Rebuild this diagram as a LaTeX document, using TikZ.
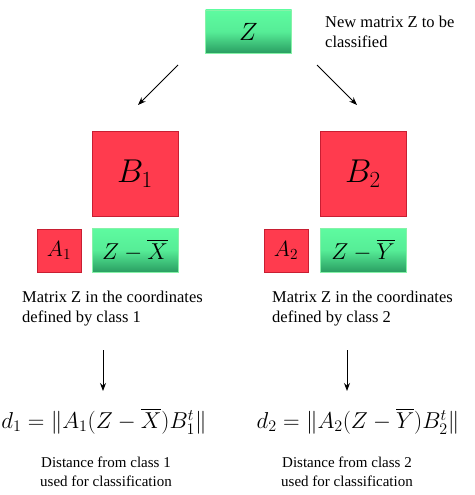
\RequirePackage{fix-cm}
\documentclass[tikz,border=0pt]{standalone}
\usepackage{amsmath}
\usepackage{fontspec}
\setmainfont{Liberation Serif}
\usetikzlibrary{arrows.meta}
\definecolor{redfill}{HTML}{FF3B4E}
\definecolor{reddraw}{HTML}{C81E32}
\definecolor{greentop}{HTML}{5EFBA0}
\definecolor{greenbot}{HTML}{2A9E62}
\definecolor{greendraw}{HTML}{86F2A8}
\tikzset{
  redbox/.style={draw=reddraw, fill=redfill, line width=0.8pt, inner sep=0pt},
  greenbox/.style={draw=greendraw, top color=greentop, bottom color=greenbot, middle color=greentop!85!greenbot, line width=0.8pt, inner sep=0pt},
  caption/.style={align=left, font=\fontsize{16.5}{20}\selectfont, inner sep=0pt, anchor=north west},
  capc/.style={align=center, font=\fontsize{15}{18.5}\selectfont, inner sep=0pt},
  arr/.style={-{Stealth[length=8pt,width=6pt]}, line width=0.9pt},
}
\begin{document}
\begin{tikzpicture}[x=1pt,y=-1pt]
\useasboundingbox (0,0) rectangle (474,495);
% Z box
\node[greenbox, minimum width=86pt, minimum height=43pt, font=\fontsize{25}{30}\selectfont] (Z) at (248.5,31.5) {$Z$};
\node[caption] (newtxt) at (325,16) {New matrix Z to be\\classified};
% B boxes
\node[redbox, minimum width=86pt, minimum height=85pt, font=\fontsize{33}{38}\selectfont] (B1) at (135,173.5) {$B_1$};
\node[redbox, minimum width=86pt, minimum height=85pt, font=\fontsize{33}{38}\selectfont] (B2) at (363,173.5) {$B_2$};
% A boxes
\node[redbox, minimum width=44pt, minimum height=43pt, font=\fontsize{22}{26}\selectfont] (A1) at (59,250.5) {$A_1$};
\node[redbox, minimum width=44pt, minimum height=43pt, font=\fontsize{22}{26}\selectfont] (A2) at (286,250.5) {$A_2$};
% Z - mean boxes
\node[greenbox, minimum width=86pt, minimum height=44pt, font=\fontsize{23}{27}\selectfont] (ZX) at (135,250) {$Z-\overline{X}$};
\node[greenbox, minimum width=86pt, minimum height=44pt, font=\fontsize{23}{27}\selectfont] (ZY) at (363,250) {$Z-\overline{Y}$};
% arrows from Z
\coordinate (l1s) at (178,65);
\coordinate (l1e) at (138,105);
\coordinate (r1s) at (317,65);
\coordinate (r1e) at (357,105);
\draw[arr] (l1s) -- (l1e);
\draw[arr] (r1s) -- (r1e);
% captions
\node[caption] (m1) at (22,291) {Matrix Z in the coordinates\\defined by class 1};
\node[caption] (m2) at (272,291) {Matrix Z in the coordinates\\defined by class 2};
% down arrows
\coordinate (d1s) at (103,350);
\coordinate (d2s) at (347,350);
\node[font=\fontsize{23}{27}\selectfont, inner sep=0pt] (f1) at (104,421) {$d_1=\|A_1(Z-\overline{X})B_1^t\|$};
\node[font=\fontsize{23}{27}\selectfont, inner sep=0pt] (f2) at (358,421) {$d_2=\|A_2(Z-\overline{Y})B_2^t\|$};
\draw[arr] (d1s) -- (d1s |- 0,391);
\draw[arr] (d2s) -- (d2s |- 0,391);
\node[capc] (c1) at (106,472) {Distance from class 1\\used for classification};
\node[capc] (c2) at (347,472) {Distance from class 2\\used for classification};
\end{tikzpicture}
\end{document}
